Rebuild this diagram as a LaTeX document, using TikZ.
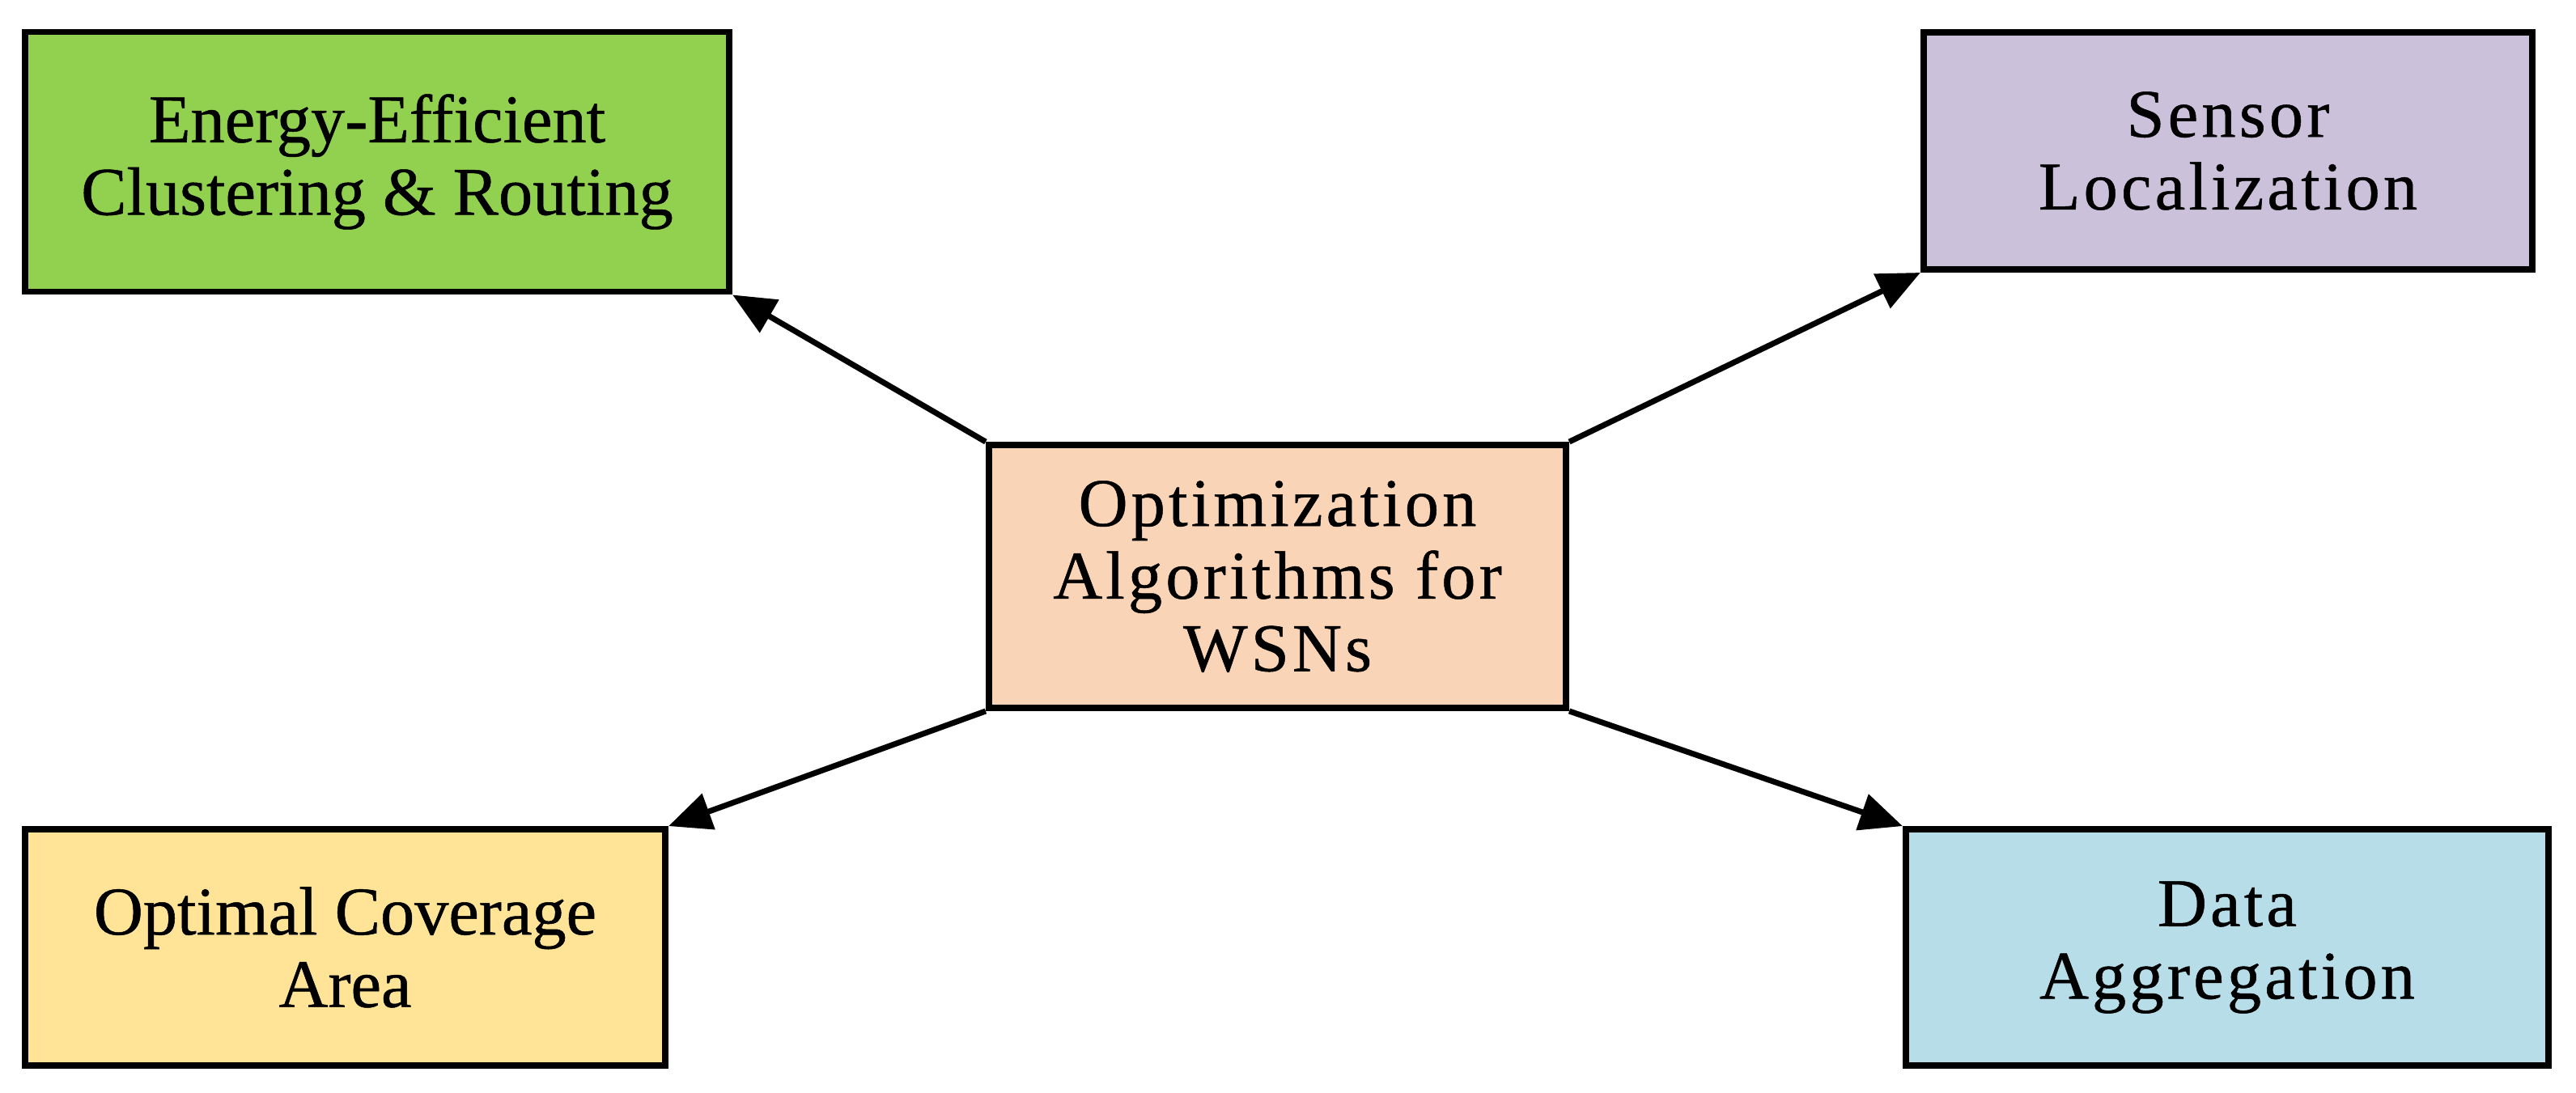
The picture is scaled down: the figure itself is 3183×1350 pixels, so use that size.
\documentclass[tikz,border=0pt]{standalone}
\usepackage{fontspec}
\setmainfont[FakeBold=0.6]{Liberation Serif}
\newfontfamily\spacedfont[LetterSpace=5,FakeBold=0.6]{Liberation Serif}
\usetikzlibrary{arrows.meta}
\definecolor{greenfill}{RGB}{146,208,80}
\definecolor{purplefill}{RGB}{204,193,218}
\definecolor{peachfill}{RGB}{250,212,182}
\definecolor{yellowfill}{RGB}{255,228,152}
\definecolor{bluefill}{RGB}{183,222,232}
\begin{document}
\begin{tikzpicture}[x=0.01cm,y=-0.01cm,
  box/.style={draw=black, line width=2.2pt, align=center, inner sep=0pt,
    font=\fontsize{24}{25.5}\selectfont},
  spaced/.style={font=\fontsize{24}{25.5}\spacedfont},
  conn/.style={line width=2pt, -{Triangle[length=15pt,width=13pt]}}]
\useasboundingbox (0,0) rectangle (3183,1350);
\node[box, fill=greenfill, minimum width=8.70cm, minimum height=3.21cm] (ee) at (466,200) {Energy-Efficient\\Clustering \& Routing};
\node[box, spaced, fill=purplefill, minimum width=7.52cm, minimum height=2.93cm] (sl) at (2753,186.5) {Sensor\\Localization};
\node[box, spaced, fill=peachfill, minimum width=7.13cm, minimum height=3.25cm] (oa) at (1578.5,712.5) {Optimization\\Algorithms for\\WSNs};
\node[box, fill=yellowfill, minimum width=7.91cm, minimum height=2.92cm] (oc) at (426.5,1171) {Optimal Coverage\\Area};
\node[box, spaced, fill=bluefill, minimum width=7.94cm, minimum height=2.92cm] (da) at (2752,1171) {Data\\Aggregation};
\draw[conn] (oa.north west) -- (ee.south east);
\draw[conn] (oa.north east) -- (sl.south west);
\draw[conn] (oa.south west) -- (oc.north east);
\draw[conn] (oa.south east) -- (da.north west);
\end{tikzpicture}
\end{document}
